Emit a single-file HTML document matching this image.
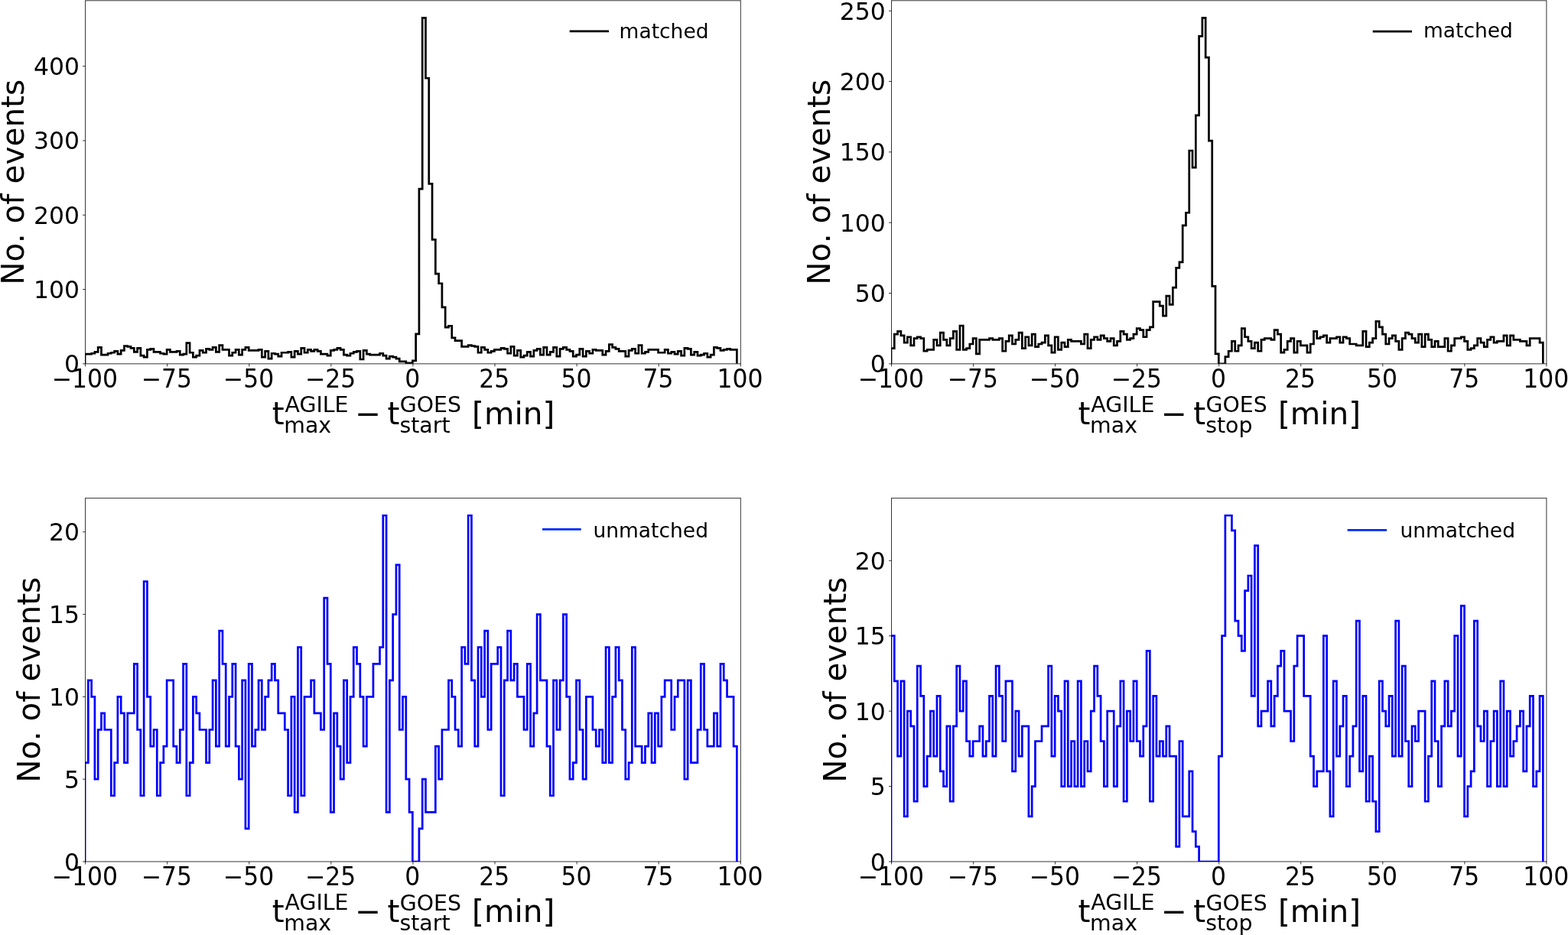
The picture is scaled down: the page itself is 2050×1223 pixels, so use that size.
<!DOCTYPE html>
<html><head><meta charset="utf-8"><title>histograms</title>
<style>html,body{margin:0;padding:0;background:#fff;} body{width:2050px;height:1223px;overflow:hidden;} svg{display:block;}</style>
</head><body>
<svg width="2050" height="1223" viewBox="0 0 2050 1223">
<rect x="0" y="0" width="2050" height="1223" fill="#ffffff"/>
<defs>
<clipPath id="clipTL"><rect x="111.05" y="0.8" width="857.25" height="475.05"/></clipPath>
<clipPath id="clipTR"><rect x="1165.0" y="0.8" width="856.90" height="475.05"/></clipPath>
<clipPath id="clipBL"><rect x="111.05" y="651.6" width="857.25" height="475.40"/></clipPath>
<clipPath id="clipBR"><rect x="1165.0" y="651.6" width="856.90" height="475.40"/></clipPath>
</defs>
<path d="M111.05 475.85V463.2H115.33V463.2H119.62V462.23H123.9V460.28H128.18V454.44H132.47V464.17H136.75V464.17H141.03V462.23H145.31V461.26H149.6V459.31H153.88V463.2H158.16V458.34H162.45V452.5H166.73V453.47H171.01V455.42H175.3V460.28H179.58V455.42H183.86V465.15H188.14V467.09H192.43V457.36H196.71V456.39H200.99V460.28H205.28V460.28H209.56V462.23H213.84V463.2H218.12V457.36H222.41V460.28H226.69V460.28H230.97V459.31H235.26V464.17H239.54V463.2H243.82V448.61H248.11V461.26H252.39V467.09H256.67V465.15H260.95V458.34H265.24V461.26H269.52V456.39H273.8V457.36H278.09V454.44H282.37V460.28H286.65V451.53H290.94V457.36H295.22V457.36H299.5V465.15H303.79V461.26H308.07V457.36H312.35V464.17H316.63V457.36H320.92V454.44H325.2V458.34H329.48V458.34H333.77V458.34H338.05V457.36H342.33V467.09H346.62V459.31H350.9V469.04H355.18V462.23H359.46V463.2H363.75V466.12H368.03V461.26H372.31V461.26H376.6V460.28H380.88V467.09H385.16V459.31H389.45V463.2H393.73V455.42H398.01V461.26H402.29V457.36H406.58V459.31H410.86V457.36H415.14V459.31H419.43V463.2H423.71V463.2H427.99V465.15H432.28V458.34H436.56V457.36H440.84V455.42H445.12V457.36H449.41V464.17H453.69V465.15H457.97V462.23H462.26V460.28H466.54V459.31H470.82V470.01H475.11V458.34H479.39V463.2H483.67V464.17H487.95V464.17H492.24V464.17H496.52V462.23H500.8V465.15H505.09V469.04H509.37V466.12H513.65V467.09H517.94V469.04H522.22V472.93H526.5V472.93H530.78V474.88H535.07V474.88H539.35V471.96H543.63V436.93H547.92V247.2H552.2V23.42H556.48V102.23H560.76V240.39H565.05V313.36H569.33V358.12H573.61V370.77H577.9V401.9H582.18V428.17H586.46V426.23H590.75V441.8H595.03V445.69H599.31V445.69H603.6V453.47H607.88V453.47H612.16V451.53H616.44V452.5H620.73V453.47H625.01V461.26H629.29V454.44H633.58V457.36H637.86V461.26H642.14V459.31H646.42V457.36H650.71V457.36H654.99V455.42H659.27V456.39H663.56V462.23H667.84V453.47H672.12V465.15H676.41V458.34H680.69V467.09H684.97V465.15H689.25V460.28H693.54V466.12H697.82V458.34H702.1V456.39H706.39V464.17H710.67V454.44H714.95V464.17H719.24V460.28H723.52V454.44H727.8V466.12H732.09V456.39H736.37V454.44H740.65V457.36H744.93V459.31H749.22V466.12H753.5V464.17H757.78V456.39H762.07V466.12H766.35V459.31H770.63V462.23H774.91V457.36H779.2V458.34H783.48V458.34H787.76V464.17H792.05V459.31H796.33V450.55H800.61V454.44H804.9V456.39H809.18V459.31H813.46V459.31H817.75V466.12H822.03V458.34H826.31V456.39H830.59V462.23H834.88V451.53H839.16V462.23H843.44V460.28H847.73V457.36H852.01V457.36H856.29V457.36H860.58V461.26H864.86V461.26H869.14V457.36H873.42V462.23H877.71V460.28H881.99V463.2H886.27V459.31H890.56V465.15H894.84V455.42H899.12V456.39H903.4V464.17H907.69V460.28H911.97V465.15H916.25V464.17H920.54V462.23H924.82V467.09H929.1V464.17H933.39V454.44H937.67V455.42H941.95V458.34H946.24V457.36H950.52V456.39H954.8V457.36H959.08V457.36H963.37V475.85" fill="none" stroke="#000000" stroke-width="2.7" stroke-linejoin="miter" clip-path="url(#clipTL)"/>
<g stroke="#000" stroke-width="0.8" fill="none">
<path d="M111.55 0.8V475.85M968.3 0.8V475.85M111.14999999999999 0.8H968.6999999999999M111.14999999999999 475.85H968.6999999999999"/>
<path d="M111.55 475.85v3.5M218.64 475.85v3.5M325.74 475.85v3.5M432.83 475.85v3.5M539.92 475.85v3.5M647.02 475.85v3.5M754.11 475.85v3.5M861.21 475.85v3.5M968.3 475.85v3.5M111.55 475.85h-3.5M111.55 378.55h-3.5M111.55 281.26h-3.5M111.55 183.96h-3.5M111.55 86.66h-3.5"/>
</g>
<g font-family="'DejaVu Sans', 'Liberation Sans', sans-serif" font-size="31.45" fill="#000">
<text transform="translate(110.85 506.85) scale(1 1.045)" text-anchor="middle">−100</text>
<text transform="translate(217.94 506.85) scale(1 1.045)" text-anchor="middle">−75</text>
<text transform="translate(325.04 506.85) scale(1 1.045)" text-anchor="middle">−50</text>
<text transform="translate(432.13 506.85) scale(1 1.045)" text-anchor="middle">−25</text>
<text transform="translate(539.22 506.85) scale(1 1.045)" text-anchor="middle">0</text>
<text transform="translate(646.32 506.85) scale(1 1.045)" text-anchor="middle">25</text>
<text transform="translate(753.41 506.85) scale(1 1.045)" text-anchor="middle">50</text>
<text transform="translate(860.51 506.85) scale(1 1.045)" text-anchor="middle">75</text>
<text transform="translate(967.6 506.85) scale(1 1.045)" text-anchor="middle">100</text>
<text transform="translate(103.9 487.35) scale(1 1.04)" text-anchor="end">0</text>
<text transform="translate(103.9 390.05) scale(1 1.04)" text-anchor="end">100</text>
<text transform="translate(103.9 292.76) scale(1 1.04)" text-anchor="end">200</text>
<text transform="translate(103.9 195.46) scale(1 1.04)" text-anchor="end">300</text>
<text transform="translate(103.9 98.16) scale(1 1.04)" text-anchor="end">400</text>
</g>
<text font-family="'DejaVu Sans', 'Liberation Sans', sans-serif" font-size="40.6" text-anchor="middle" transform="translate(31 238.33) rotate(-90)">No. of events</text>
<g font-family="'DejaVu Sans', 'Liberation Sans', sans-serif" fill="#000">
<text x="355.7" y="555" font-size="40.6">t</text>
<text x="372.5" y="539.1" font-size="28.4">AGILE</text>
<text x="371.3" y="565.8" font-size="28.4">max</text>
<text x="464.2" y="555" font-size="40.6">−</text>
<text x="506.5" y="555" font-size="40.6">t</text>
<text x="522.7" y="539.4" font-size="28.4">GOES</text>
<text x="522.4" y="565.9" font-size="28.4">start</text>
<text x="617.1" y="555" font-size="40.6">[min]</text>
</g>
<line x1="744.7" y1="40.9" x2="796.0" y2="40.9" stroke="#000000" stroke-width="2.8"/>
<text x="809.6" y="49.8" font-family="'DejaVu Sans', 'Liberation Sans', sans-serif" font-size="26.5">matched</text>
<path d="M1165 475.85V455.54H1169.28V437.07H1173.57V433.38H1177.85V438.92H1182.13V448.15H1186.41V440.76H1190.7V451.84H1194.98V442.61H1199.26V440.76H1203.55V442.61H1207.83V459.23H1212.11V457.38H1216.4V457.38H1220.68V444.46H1224.96V451.84H1229.24V435.22H1233.53V444.46H1237.81V451.84H1242.09V442.61H1246.38V433.38H1250.66V457.38H1254.94V425.99H1259.23V457.38H1263.51V455.54H1267.79V450H1272.08V442.61H1276.36V462.92H1280.64V444.46H1284.92V444.46H1289.21V444.46H1293.49V442.61H1297.77V444.46H1302.06V444.46H1306.34V442.61H1310.62V459.23H1314.9V446.3H1319.19V438.92H1323.47V450H1327.75V444.46H1332.04V435.22H1336.32V455.54H1340.6V440.76H1344.89V451.84H1349.17V437.07H1353.45V453.69H1357.74V450H1362.02V448.15H1366.3V438.92H1370.58V451.84H1374.87V461.08H1379.15V440.76H1383.43V457.38H1387.72V448.15H1392V453.69H1396.28V444.46H1400.57V446.3H1404.85V446.3H1409.13V446.3H1413.41V450H1417.7V437.07H1421.98V455.54H1426.26V444.46H1430.55V440.76H1434.83V444.46H1439.11V438.92H1443.39V442.61H1447.68V446.3H1451.96V442.61H1456.24V451.84H1460.53V446.3H1464.81V433.38H1469.09V437.07H1473.38V444.46H1477.66V442.61H1481.94V437.07H1486.22V429.68H1490.51V431.53H1494.79V440.76H1499.07V431.53H1503.36V427.84H1507.64V394.6H1511.92V394.6H1516.21V400.14H1520.49V413.06H1524.77V387.21H1529.06V398.29H1533.34V376.13H1537.62V350.28H1541.9V342.89H1546.19V294.88H1550.47V278.26H1554.75V197.01H1559.04V219.17H1563.32V150.84H1567.6V47.43H1571.88V23.42H1576.17V75.13H1580.45V184.08H1584.73V374.28H1589.02V462.92H1593.3V475.85H1597.58V475.85H1601.87V466.62H1606.15V459.23H1610.43V446.3H1614.72V459.23H1619V451.84H1623.28V429.68H1627.56V440.76H1631.85V446.3H1636.13V455.54H1640.41V448.15H1644.7V459.23H1648.98V444.46H1653.26V442.61H1657.55V442.61H1661.83V444.46H1666.11V431.53H1670.39V437.07H1674.68V461.08H1678.96V457.38H1683.24V446.3H1687.53V442.61H1691.81V461.08H1696.09V446.3H1700.38V451.84H1704.66V451.84H1708.94V461.08H1713.22V450H1717.51V433.38H1721.79V442.61H1726.07V440.76H1730.36V438.92H1734.64V448.15H1738.92V442.61H1743.2V442.61H1747.49V440.76H1751.77V448.15H1756.05V440.76H1760.34V442.61H1764.62V450H1768.9V450H1773.19V451.84H1777.47V451.84H1781.75V433.38H1786.04V453.69H1790.32V448.15H1794.6V442.61H1798.88V420.45H1803.17V427.84H1807.45V437.07H1811.73V450H1816.02V442.61H1820.3V438.92H1824.58V446.3H1828.87V457.38H1833.15V442.61H1837.43V435.22H1841.71V437.07H1846V442.61H1850.28V448.15H1854.56V437.07H1858.85V453.69H1863.13V437.07H1867.41V444.46H1871.7V453.69H1875.98V446.3H1880.26V453.69H1884.54V453.69H1888.83V442.61H1893.11V459.23H1897.39V451.84H1901.68V442.61H1905.96V442.61H1910.24V440.76H1914.53V446.3H1918.81V457.38H1923.09V455.54H1927.37V451.84H1931.66V442.61H1935.94V448.15H1940.22V453.69H1944.51V444.46H1948.79V440.76H1953.07V448.15H1957.36V446.3H1961.64V446.3H1965.92V438.92H1970.2V451.84H1974.49V438.92H1978.77V444.46H1983.05V444.46H1987.34V446.3H1991.62V446.3H1995.9V451.84H2000.18V442.61H2004.47V442.61H2008.75V442.61H2013.03V448.15H2017.32V475.85" fill="none" stroke="#000000" stroke-width="2.7" stroke-linejoin="miter" clip-path="url(#clipTR)"/>
<g stroke="#000" stroke-width="0.8" fill="none">
<path d="M1165.5 0.8V475.85M2021.9 0.8V475.85M1165.1 0.8H2022.3000000000002M1165.1 475.85H2022.3000000000002"/>
<path d="M1165.5 475.85v3.5M1272.55 475.85v3.5M1379.6 475.85v3.5M1486.65 475.85v3.5M1593.7 475.85v3.5M1700.75 475.85v3.5M1807.8 475.85v3.5M1914.85 475.85v3.5M2021.9 475.85v3.5M1165.5 475.85h-3.5M1165.5 383.52h-3.5M1165.5 291.19h-3.5M1165.5 198.85h-3.5M1165.5 106.52h-3.5M1165.5 14.19h-3.5"/>
</g>
<g font-family="'DejaVu Sans', 'Liberation Sans', sans-serif" font-size="31.45" fill="#000">
<text transform="translate(1164.8 506.85) scale(1 1.045)" text-anchor="middle">−100</text>
<text transform="translate(1271.85 506.85) scale(1 1.045)" text-anchor="middle">−75</text>
<text transform="translate(1378.9 506.85) scale(1 1.045)" text-anchor="middle">−50</text>
<text transform="translate(1485.95 506.85) scale(1 1.045)" text-anchor="middle">−25</text>
<text transform="translate(1593 506.85) scale(1 1.045)" text-anchor="middle">0</text>
<text transform="translate(1700.05 506.85) scale(1 1.045)" text-anchor="middle">25</text>
<text transform="translate(1807.1 506.85) scale(1 1.045)" text-anchor="middle">50</text>
<text transform="translate(1914.15 506.85) scale(1 1.045)" text-anchor="middle">75</text>
<text transform="translate(2021.2 506.85) scale(1 1.045)" text-anchor="middle">100</text>
<text transform="translate(1157.85 487.35) scale(1 1.04)" text-anchor="end">0</text>
<text transform="translate(1157.85 395.02) scale(1 1.04)" text-anchor="end">50</text>
<text transform="translate(1157.85 302.69) scale(1 1.04)" text-anchor="end">100</text>
<text transform="translate(1157.85 210.35) scale(1 1.04)" text-anchor="end">150</text>
<text transform="translate(1157.85 118.02) scale(1 1.04)" text-anchor="end">200</text>
<text transform="translate(1157.85 25.69) scale(1 1.04)" text-anchor="end">250</text>
</g>
<text font-family="'DejaVu Sans', 'Liberation Sans', sans-serif" font-size="40.6" text-anchor="middle" transform="translate(1085.1 238.33) rotate(-90)">No. of events</text>
<g font-family="'DejaVu Sans', 'Liberation Sans', sans-serif" fill="#000">
<text x="1409.48" y="555" font-size="40.6">t</text>
<text x="1426.28" y="539.1" font-size="28.4">AGILE</text>
<text x="1425.08" y="565.8" font-size="28.4">max</text>
<text x="1517.98" y="555" font-size="40.6">−</text>
<text x="1560.28" y="555" font-size="40.6">t</text>
<text x="1576.48" y="539.4" font-size="28.4">GOES</text>
<text x="1576.18" y="565.9" font-size="28.4">stop</text>
<text x="1670.88" y="555" font-size="40.6">[min]</text>
</g>
<line x1="1794.7" y1="41.1" x2="1846.0" y2="41.1" stroke="#000000" stroke-width="2.8"/>
<text x="1861.0" y="49.0" font-family="'DejaVu Sans', 'Liberation Sans', sans-serif" font-size="26.5">matched</text>
<path d="M111.05 1127V997.64H115.33V889.84H119.62V911.4H123.9V1019.2H128.18V954.52H132.47V932.96H136.75V954.52H141.03V954.52H145.31V1040.76H149.6V997.64H153.88V911.4H158.16V932.96H162.45V997.64H166.73V932.96H171.01V932.96H175.3V868.28H179.58V954.52H183.86V1040.76H188.14V760.48H192.43V911.4H196.71V976.08H200.99V954.52H205.28V1040.76H209.56V997.64H213.84V976.08H218.12V889.84H222.41V889.84H226.69V976.08H230.97V997.64H235.26V954.52H239.54V868.28H243.82V1040.76H248.11V997.64H252.39V911.4H256.67V932.96H260.95V954.52H265.24V954.52H269.52V997.64H273.8V954.52H278.09V889.84H282.37V976.08H286.65V825.16H290.94V868.28H295.22V976.08H299.5V911.4H303.79V868.28H308.07V976.08H312.35V1019.2H316.63V889.84H320.92V1083.88H325.2V868.28H329.48V976.08H333.77V954.52H338.05V889.84H342.33V954.52H346.62V911.4H350.9V889.84H355.18V868.28H359.46V889.84H363.75V932.96H368.03V932.96H372.31V954.52H376.6V1040.76H380.88V911.4H385.16V1062.32H389.45V846.72H393.73V1040.76H398.01V911.4H402.29V911.4H406.58V889.84H410.86V932.96H415.14V932.96H419.43V954.52H423.71V782.04H427.99V868.28H432.28V1062.32H436.56V932.96H440.84V976.08H445.12V1019.2H449.41V889.84H453.69V997.64H457.97V911.4H462.26V846.72H466.54V868.28H470.82V911.4H475.11V976.08H479.39V911.4H483.67V911.4H487.95V868.28H492.24V868.28H496.52V846.72H500.8V674.24H505.09V1062.32H509.37V889.84H513.65V803.6H517.94V738.92H522.22V954.52H526.5V911.4H530.78V1019.2H535.07V1062.32H539.35V1127H543.63V1127H547.92V1083.88H552.2V1019.2H556.48V1062.32H560.76V1062.32H565.05V1062.32H569.33V976.08H573.61V1019.2H577.9V954.52H582.18V954.52H586.46V889.84H590.75V911.4H595.03V954.52H599.31V976.08H603.6V846.72H607.88V868.28H612.16V674.24H616.44V889.84H620.73V976.08H625.01V846.72H629.29V911.4H633.58V825.16H637.86V954.52H642.14V868.28H646.42V868.28H650.71V846.72H654.99V1040.76H659.27V889.84H663.56V825.16H667.84V889.84H672.12V868.28H676.41V911.4H680.69V911.4H684.97V954.52H689.25V868.28H693.54V976.08H697.82V932.96H702.1V803.6H706.39V889.84H710.67V889.84H714.95V976.08H719.24V1040.76H723.52V889.84H727.8V954.52H732.09V889.84H736.37V803.6H740.65V911.4H744.93V1019.2H749.22V997.64H753.5V889.84H757.78V954.52H762.07V1019.2H766.35V911.4H770.63V911.4H774.91V954.52H779.2V976.08H783.48V954.52H787.76V997.64H792.05V846.72H796.33V997.64H800.61V911.4H804.9V846.72H809.18V889.84H813.46V954.52H817.75V1019.2H822.03V997.64H826.31V846.72H830.59V976.08H834.88V976.08H839.16V997.64H843.44V976.08H847.73V932.96H852.01V997.64H856.29V932.96H860.58V976.08H864.86V911.4H869.14V889.84H873.42V889.84H877.71V954.52H881.99V911.4H886.27V889.84H890.56V889.84H894.84V1019.2H899.12V889.84H903.4V997.64H907.69V997.64H911.97V954.52H916.25V868.28H920.54V954.52H924.82V976.08H929.1V976.08H933.39V932.96H937.67V976.08H941.95V868.28H946.24V889.84H950.52V911.4H954.8V911.4H959.08V976.08H963.37V1127" fill="none" stroke="#0000ff" stroke-width="2.7" stroke-linejoin="miter" clip-path="url(#clipBL)"/>
<g stroke="#000" stroke-width="0.8" fill="none">
<path d="M111.55 651.6V1127.0M968.3 651.6V1127.0M111.14999999999999 651.6H968.6999999999999M111.14999999999999 1127.0H968.6999999999999"/>
<path d="M111.55 1127v3.5M218.64 1127v3.5M325.74 1127v3.5M432.83 1127v3.5M539.92 1127v3.5M647.02 1127v3.5M754.11 1127v3.5M861.21 1127v3.5M968.3 1127v3.5M111.55 1127h-3.5M111.55 1019.2h-3.5M111.55 911.4h-3.5M111.55 803.6h-3.5M111.55 695.8h-3.5"/>
</g>
<g font-family="'DejaVu Sans', 'Liberation Sans', sans-serif" font-size="31.45" fill="#000">
<text transform="translate(110.85 1158) scale(1 1.045)" text-anchor="middle">−100</text>
<text transform="translate(217.94 1158) scale(1 1.045)" text-anchor="middle">−75</text>
<text transform="translate(325.04 1158) scale(1 1.045)" text-anchor="middle">−50</text>
<text transform="translate(432.13 1158) scale(1 1.045)" text-anchor="middle">−25</text>
<text transform="translate(539.22 1158) scale(1 1.045)" text-anchor="middle">0</text>
<text transform="translate(646.32 1158) scale(1 1.045)" text-anchor="middle">25</text>
<text transform="translate(753.41 1158) scale(1 1.045)" text-anchor="middle">50</text>
<text transform="translate(860.51 1158) scale(1 1.045)" text-anchor="middle">75</text>
<text transform="translate(967.6 1158) scale(1 1.045)" text-anchor="middle">100</text>
<text transform="translate(103.9 1138.5) scale(1 1.04)" text-anchor="end">0</text>
<text transform="translate(103.9 1030.7) scale(1 1.04)" text-anchor="end">5</text>
<text transform="translate(103.9 922.9) scale(1 1.04)" text-anchor="end">10</text>
<text transform="translate(103.9 815.1) scale(1 1.04)" text-anchor="end">15</text>
<text transform="translate(103.9 707.3) scale(1 1.04)" text-anchor="end">20</text>
</g>
<text font-family="'DejaVu Sans', 'Liberation Sans', sans-serif" font-size="40.6" text-anchor="middle" transform="translate(51.7 889.3) rotate(-90)">No. of events</text>
<g font-family="'DejaVu Sans', 'Liberation Sans', sans-serif" fill="#000">
<text x="355.7" y="1206.15" font-size="40.6">t</text>
<text x="372.5" y="1190.25" font-size="28.4">AGILE</text>
<text x="371.3" y="1216.95" font-size="28.4">max</text>
<text x="464.2" y="1206.15" font-size="40.6">−</text>
<text x="506.5" y="1206.15" font-size="40.6">t</text>
<text x="522.7" y="1190.55" font-size="28.4">GOES</text>
<text x="522.4" y="1217.05" font-size="28.4">start</text>
<text x="617.1" y="1206.15" font-size="40.6">[min]</text>
</g>
<line x1="709.0" y1="692.4" x2="759.7" y2="692.4" stroke="#0028ff" stroke-width="2.8"/>
<text x="775.45" y="702.7" font-family="'DejaVu Sans', 'Liberation Sans', sans-serif" font-size="26.5">unmatched</text>
<path d="M1165 1127V831.72H1169.28V890.78H1173.57V989.2H1177.85V890.78H1182.13V1067.94H1186.41V930.15H1190.7V949.83H1194.98V1048.26H1199.26V871.09H1203.55V910.46H1207.83V1028.57H1212.11V989.2H1216.4V930.15H1220.68V989.2H1224.96V910.46H1229.24V1008.89H1233.53V1028.57H1237.81V949.83H1242.09V1048.26H1246.38V949.83H1250.66V871.09H1254.94V930.15H1259.23V890.78H1263.51V969.52H1267.79V989.2H1272.08V969.52H1276.36V969.52H1280.64V949.83H1284.92V989.2H1289.21V969.52H1293.49V910.46H1297.77V989.2H1302.06V871.09H1306.34V910.46H1310.62V969.52H1314.9V890.78H1319.19V890.78H1323.47V1008.89H1327.75V930.15H1332.04V989.2H1336.32V949.83H1340.6V949.83H1344.89V1067.94H1349.17V1028.57H1353.45V969.52H1357.74V969.52H1362.02V949.83H1366.3V949.83H1370.58V871.09H1374.87V989.2H1379.15V910.46H1383.43V930.15H1387.72V1028.57H1392V890.78H1396.28V1028.57H1400.57V969.52H1404.85V1028.57H1409.13V890.78H1413.41V1028.57H1417.7V969.52H1421.98V1008.89H1426.26V930.15H1430.55V871.09H1434.83V910.46H1439.11V969.52H1443.39V1028.57H1447.68V930.15H1451.96V930.15H1456.24V1028.57H1460.53V949.83H1464.81V890.78H1469.09V1048.26H1473.38V930.15H1477.66V969.52H1481.94V890.78H1486.22V969.52H1490.51V989.2H1494.79V949.83H1499.07V851.41H1503.36V1048.26H1507.64V910.46H1511.92V989.2H1516.21V969.52H1520.49V989.2H1524.77V949.83H1529.06V989.2H1533.34V989.2H1537.62V1107.31H1541.9V969.52H1546.19V1067.94H1550.47V1067.94H1554.75V1008.89H1559.04V1087.63H1563.32V1107.31H1567.6V1127H1571.88V1127H1576.17V1127H1580.45V1127H1584.73V1127H1589.02V1127H1593.3V989.2H1597.58V831.72H1601.87V674.24H1606.15V674.24H1610.43V693.92H1614.72V812.04H1619V831.72H1623.28V851.41H1627.56V772.66H1631.85V752.98H1636.13V910.46H1640.41V713.61H1644.7V949.83H1648.98V930.15H1653.26V930.15H1657.55V890.78H1661.83V949.83H1666.11V910.46H1670.39V871.09H1674.68V851.41H1678.96V930.15H1683.24V930.15H1687.53V969.52H1691.81V871.09H1696.09V831.72H1700.38V831.72H1704.66V910.46H1708.94V910.46H1713.22V989.2H1717.51V1028.57H1721.79V1008.89H1726.07V1008.89H1730.36V831.72H1734.64V1008.89H1738.92V1067.94H1743.2V890.78H1747.49V989.2H1751.77V949.83H1756.05V910.46H1760.34V1028.57H1764.62V989.2H1768.9V949.83H1773.19V812.04H1777.47V1008.89H1781.75V910.46H1786.04V1048.26H1790.32V989.2H1794.6V1048.26H1798.88V1087.63H1803.17V890.78H1807.45V930.15H1811.73V949.83H1816.02V910.46H1820.3V989.2H1824.58V812.04H1828.87V989.2H1833.15V871.09H1837.43V969.52H1841.71V1028.57H1846V949.83H1850.28V969.52H1854.56V930.15H1858.85V930.15H1863.13V1048.26H1867.41V989.2H1871.7V890.78H1875.98V969.52H1880.26V1028.57H1884.54V949.83H1888.83V890.78H1893.11V949.83H1897.39V930.15H1901.68V831.72H1905.96V989.2H1910.24V792.35H1914.53V1067.94H1918.81V1028.57H1923.09V1008.89H1927.37V812.04H1931.66V949.83H1935.94V969.52H1940.22V930.15H1944.51V1028.57H1948.79V969.52H1953.07V930.15H1957.36V1028.57H1961.64V890.78H1965.92V1028.57H1970.2V930.15H1974.49V989.2H1978.77V969.52H1983.05V949.83H1987.34V930.15H1991.62V1008.89H1995.9V949.83H2000.18V910.46H2004.47V1028.57H2008.75V1008.89H2013.03V910.46H2017.32V1127" fill="none" stroke="#0000ff" stroke-width="2.7" stroke-linejoin="miter" clip-path="url(#clipBR)"/>
<g stroke="#000" stroke-width="0.8" fill="none">
<path d="M1165.5 651.6V1127.0M2021.9 651.6V1127.0M1165.1 651.6H2022.3000000000002M1165.1 1127.0H2022.3000000000002"/>
<path d="M1165.5 1127v3.5M1272.55 1127v3.5M1379.6 1127v3.5M1486.65 1127v3.5M1593.7 1127v3.5M1700.75 1127v3.5M1807.8 1127v3.5M1914.85 1127v3.5M2021.9 1127v3.5M1165.5 1127h-3.5M1165.5 1028.57h-3.5M1165.5 930.15h-3.5M1165.5 831.72h-3.5M1165.5 733.29h-3.5"/>
</g>
<g font-family="'DejaVu Sans', 'Liberation Sans', sans-serif" font-size="31.45" fill="#000">
<text transform="translate(1164.8 1158) scale(1 1.045)" text-anchor="middle">−100</text>
<text transform="translate(1271.85 1158) scale(1 1.045)" text-anchor="middle">−75</text>
<text transform="translate(1378.9 1158) scale(1 1.045)" text-anchor="middle">−50</text>
<text transform="translate(1485.95 1158) scale(1 1.045)" text-anchor="middle">−25</text>
<text transform="translate(1593 1158) scale(1 1.045)" text-anchor="middle">0</text>
<text transform="translate(1700.05 1158) scale(1 1.045)" text-anchor="middle">25</text>
<text transform="translate(1807.1 1158) scale(1 1.045)" text-anchor="middle">50</text>
<text transform="translate(1914.15 1158) scale(1 1.045)" text-anchor="middle">75</text>
<text transform="translate(2021.2 1158) scale(1 1.045)" text-anchor="middle">100</text>
<text transform="translate(1157.85 1138.5) scale(1 1.04)" text-anchor="end">0</text>
<text transform="translate(1157.85 1040.07) scale(1 1.04)" text-anchor="end">5</text>
<text transform="translate(1157.85 941.65) scale(1 1.04)" text-anchor="end">10</text>
<text transform="translate(1157.85 843.22) scale(1 1.04)" text-anchor="end">15</text>
<text transform="translate(1157.85 744.79) scale(1 1.04)" text-anchor="end">20</text>
</g>
<text font-family="'DejaVu Sans', 'Liberation Sans', sans-serif" font-size="40.6" text-anchor="middle" transform="translate(1105.8 889.3) rotate(-90)">No. of events</text>
<g font-family="'DejaVu Sans', 'Liberation Sans', sans-serif" fill="#000">
<text x="1409.48" y="1206.15" font-size="40.6">t</text>
<text x="1426.28" y="1190.25" font-size="28.4">AGILE</text>
<text x="1425.08" y="1216.95" font-size="28.4">max</text>
<text x="1517.98" y="1206.15" font-size="40.6">−</text>
<text x="1560.28" y="1206.15" font-size="40.6">t</text>
<text x="1576.48" y="1190.55" font-size="28.4">GOES</text>
<text x="1576.18" y="1217.05" font-size="28.4">stop</text>
<text x="1670.88" y="1206.15" font-size="40.6">[min]</text>
</g>
<line x1="1761.6" y1="693.4" x2="1813.1" y2="693.4" stroke="#0028ff" stroke-width="2.8"/>
<text x="1830.45" y="702.6" font-family="'DejaVu Sans', 'Liberation Sans', sans-serif" font-size="26.5">unmatched</text>
</svg>
</body></html>
